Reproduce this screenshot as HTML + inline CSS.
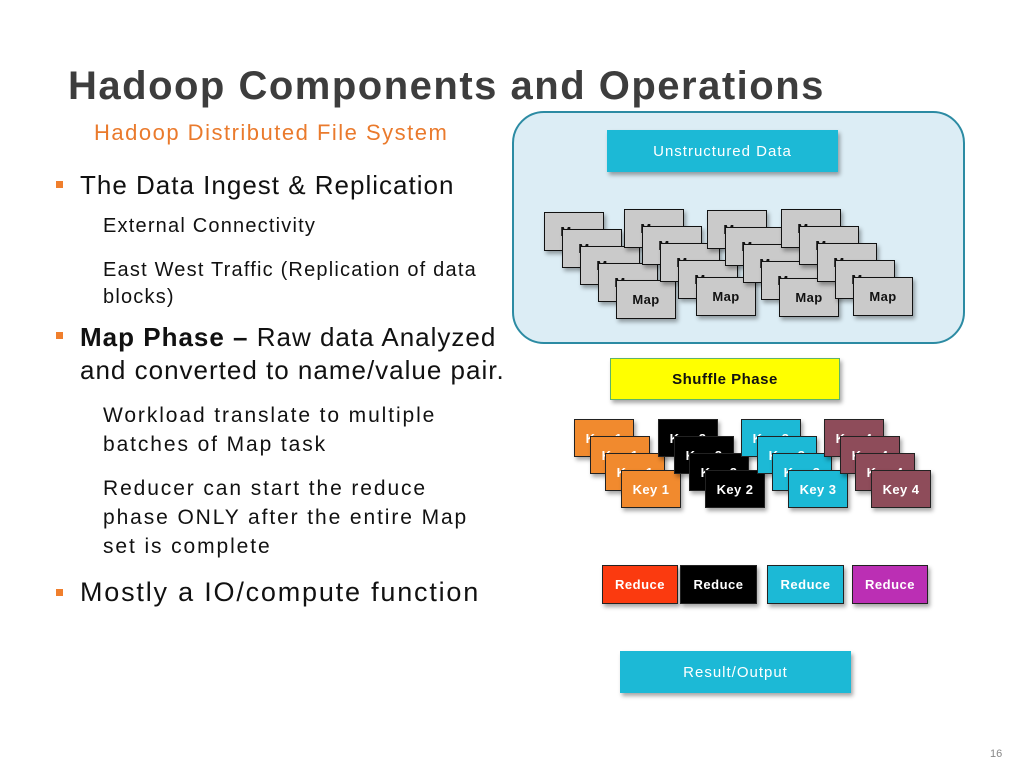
<!DOCTYPE html>
<html><head><style>
body{margin:0;width:1024px;height:768px;background:#fff;position:relative;overflow:hidden;font-family:"Liberation Sans",Arial,sans-serif}
.a{position:absolute;white-space:nowrap}
.b{position:absolute;box-sizing:border-box;display:flex;align-items:center;justify-content:center;font-weight:bold;font-size:13px;box-shadow:2px 3px 4px rgba(0,0,0,.35)}
.m{width:60px;height:39px;background:#cacaca;border:1.5px solid #111;color:#111;letter-spacing:.4px}
.k{width:60px;height:38px;border:1.5px solid #222;color:#fff;font-size:13px;letter-spacing:.4px}
.r{height:39px;border:1.5px solid #222;color:#fff;letter-spacing:.5px}
.sq{position:absolute;width:7px;height:7px;background:#f07f2d}
</style></head><body>
<div class="a" style="left:68px;top:64px;font-size:40px;letter-spacing:1.5px;font-weight:bold;color:#3d3d3d">Hadoop Components and Operations</div>
<div class="a" style="left:94px;top:120px;font-size:22px;letter-spacing:1.5px;color:#ea7a2c">Hadoop Distributed File System</div>
<div class="sq" style="left:56px;top:181px"></div>
<div class="a" style="left:80px;top:170px;font-size:26px;letter-spacing:1px;color:#111">The Data Ingest &amp; Replication</div>
<div class="a" style="left:103px;top:215px;font-size:20px;letter-spacing:1.2px;color:#111">External Connectivity</div>
<div class="a" style="left:103px;top:257px;font-size:20px;letter-spacing:1.2px;color:#111;line-height:27px">East West Traffic (Replication of data<br>blocks)</div>
<div class="sq" style="left:56px;top:332px"></div>
<div class="a" style="left:80px;top:321px;font-size:26px;letter-spacing:1px;color:#111;line-height:33px"><b>Map Phase –</b> Raw data Analyzed<br>and converted to name/value pair.</div>
<div class="a" style="left:103px;top:401px;font-size:21px;letter-spacing:1.9px;color:#111;line-height:29px">Workload translate to multiple<br>batches of Map task</div>
<div class="a" style="left:103px;top:474px;font-size:21px;letter-spacing:1.9px;color:#111;line-height:29px">Reducer can start the reduce<br>phase ONLY after the entire Map<br>set is complete</div>
<div class="sq" style="left:56px;top:589px"></div>
<div class="a" style="left:80px;top:577px;font-size:27px;letter-spacing:1.8px;color:#111">Mostly a IO/compute function</div>

<div style="position:absolute;left:512px;top:111px;width:453px;height:233px;box-sizing:border-box;border:2.5px solid #2c8ba3;border-radius:32px;background:#dcedf5"></div>
<div class="b" style="left:607px;top:130px;width:231px;height:42px;background:#1cb9d6;color:#fff;font-weight:normal;font-size:15px;letter-spacing:1px">Unstructured Data</div>

<div id="maps"></div>
<div class="b" style="left:610px;top:358px;width:230px;height:42px;background:#ffff00;border:1.5px solid #5fb36a;color:#111;font-size:15px;letter-spacing:.5px">Shuffle Phase</div>
<div id="keys"></div>

<div class="b r" style="left:602px;top:565px;width:76px;background:#fb3a0f">Reduce</div>
<div class="b r" style="left:680px;top:565px;width:77px;background:#000">Reduce</div>
<div class="b r" style="left:767px;top:565px;width:77px;background:#1cb9d6">Reduce</div>
<div class="b r" style="left:852px;top:565px;width:76px;background:#bb2fb4">Reduce</div>

<div class="b" style="left:620px;top:651px;width:231px;height:42px;background:#1cb9d6;color:#fff;font-weight:normal;font-size:15px;letter-spacing:1px">Result/Output</div>
<div class="a" style="left:990px;top:748px;font-size:11px;color:#888">16</div>
<script>
var h='';
[[544,212],[624,209],[707,210],[781,209]].forEach(function(c){for(var i=0;i<5;i++){h+='<div class="b m" style="left:'+(c[0]+i*18)+'px;top:'+(c[1]+i*17)+'px">Map</div>';}});
document.getElementById('maps').outerHTML=h;
h='';
[[574,419,'#f18a2e','Key 1'],[658,419,'#000','Key 2'],[741,419,'#1cb9d6','Key 3'],[824,419,'#8e4c5a','Key 4']].forEach(function(c){for(var i=0;i<4;i++){h+='<div class="b k" style="left:'+(c[0]+Math.round(i*15.6))+'px;top:'+(c[1]+i*17)+'px;background:'+c[2]+'">'+c[3]+'</div>';}});
document.getElementById('keys').outerHTML=h;
</script>
</body></html>
